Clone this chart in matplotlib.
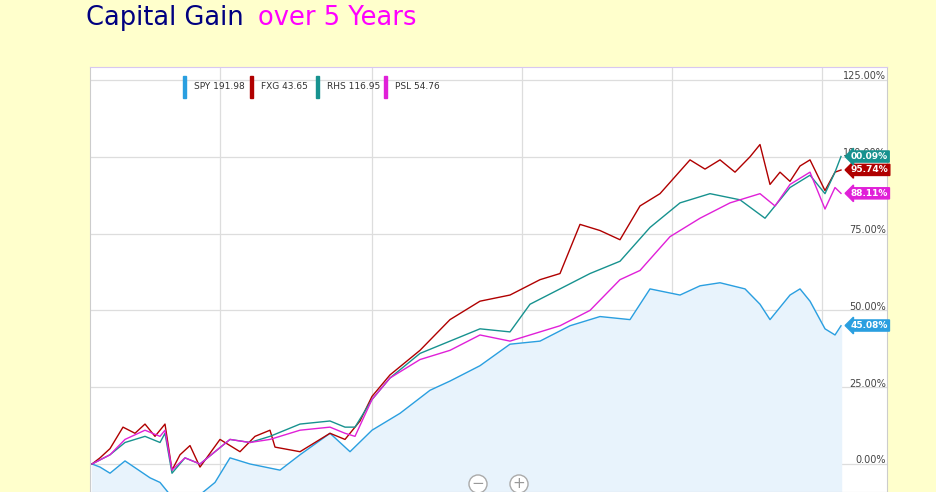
import matplotlib
matplotlib.use("Agg")
import matplotlib.pyplot as plt
import numpy as np

# x positions in months (0..60)
def px2m(p): return (p - 92) / (841 - 92) * 60

spy_px = [92,100,110,125,150,160,170,185,200,215,230,250,280,300,330,350,372,400,430,450,480,510,540,570,600,630,650,680,700,720,745,760,770,790,800,810,825,835,841]
spy_v  = [0,-1,-3,1,-4.5,-6,-10,-11,-10,-6,2,0,-2,3,10,4,11,16.5,24,27,32,39,40,45,48,47,57,55,58,59,57,52,47,55,57,53,44,42,45]
fxg_px = [92,100,110,123,135,145,155,165,172,180,190,200,220,240,255,270,275,300,330,345,360,372,390,420,450,480,510,540,560,570,580,600,620,640,660,690,705,720,735,750,760,770,780,790,800,810,825,835,841]
fxg_v  = [0,2,5,12,10,13,9,13,-2,3,6,-1,8,4,9,11,5.5,4,10,8,14,22,29,37,47,53,55,60,62,70,78,76,73,84,88,99,96,99,95,100,104,91,95,92,97,99,89,95,95.7]
rhs_px = [92,110,125,145,160,165,172,185,200,230,250,270,300,330,345,355,372,390,420,450,480,510,530,560,590,620,650,680,710,740,765,780,790,810,825,835,841]
rhs_v  = [0,3,7,9,7,10,-3,2,0,8,7,9,13,14,12,12,21,28,36,40,44,43,52,57,62,66,77,85,88,86,80,86,90,94,88,95,100.1]
psl_px = [92,110,125,145,160,165,172,185,200,230,250,270,300,330,345,355,372,390,420,450,480,510,540,560,590,620,640,670,700,730,760,775,790,810,825,835,841]
psl_v  = [0,3,8,11,9,11,-2,2,0,8,7,8,11,12,10,9,21,28,34,37,42,40,43,45,50,60,63,74,80,85,88,84,91,95,83,90,88.1]

names = ["SPY 191.98", "FXG 43.65", "RHS 116.95", "PSL 54.76"]
colors = ["#2a9fe0", "#b00000", "#17928f", "#e020d8"]
end_labels = ["45.08%", "95.74%", "00.09%", "88.11%"]
yticks = [0, 25, 50, 75, 100, 125]

fig = plt.figure(figsize=(9.37, 4.92), dpi=100)
fig.patch.set_facecolor("#FFFFCC")
W, H = 937, 492
ax = fig.add_axes([90/W, 0, (887-90)/W, (492-67)/H])
ax.set_facecolor("white")
x0 = px2m(90); x1 = px2m(887)
ax.set_xlim(x0, x1)
pxpp = 384/125
ax.set_ylim(-(492-464)/pxpp, (464-67)/pxpp)

for gx in [220, 372, 522, 672, 822]:
    ax.axvline(px2m(gx), color="#dddddd", lw=0.9, zorder=0)
for gy in yticks:
    ax.axhline(gy, color="#dddddd", lw=0.9, zorder=0)
    ax.text(x1 - 0.1, gy + 1.2, f"{gy:.2f}%", ha="right", va="center", fontsize=7, color="#444444", zorder=2)

series = [(spy_px, spy_v), (fxg_px, fxg_v), (rhs_px, rhs_v), (psl_px, psl_v)]
sx = [px2m(p) for p in spy_px]
ax.fill_between(sx, spy_v, -20, color="#e8f3fc", zorder=1)
for (px, v), c in zip(series, colors):
    ax.plot([px2m(p) for p in px], v, color=c, lw=1.0, zorder=3)

label_y = [45.08, 95.74, 100.09, 88.11]
for c, t, yy in zip(colors, end_labels, label_y):
    ax.text(px2m(851), yy, t, color="white", fontsize=6.5, fontweight="bold", ha="left", va="center",
            bbox=dict(boxstyle="larrow,pad=0.12", fc=c, ec=c), zorder=5)

for s in ["left", "right", "bottom"]:
    ax.spines[s].set_color("#cccccc")
ax.spines["top"].set_color("#d8c8f0")
ax.set_xticks([]); ax.set_yticks([])

# legend
lx = [183, 250, 316, 384]
for x, n, c in zip(lx, names, colors):
    fig.patches.append(plt.Rectangle((x/W, 1-98/H), 3/W, 22/H, transform=fig.transFigure, color=c))
    fig.text((x+11)/W, 1-87/H, n, fontsize=6.5, color="#333333", va="center")

# zoom buttons
for x, s in [(478, "−"), (519, "+")]:
    fig.text(x/W, 1-484/H, s, fontsize=11, color="#999999", ha="center", va="center",
             bbox=dict(boxstyle="circle,pad=0.1", fc="white", ec="#aaaaaa"))

fig.text(86/W, 1-18/H, "Capital Gain", fontsize=18.5, color="#000080", va="center")
fig.text(258/W, 1-18/H, "over 5 Years", fontsize=18.5, color="#ff00ff", va="center")

fig.savefig("out.png", dpi=100, facecolor=fig.get_facecolor())
